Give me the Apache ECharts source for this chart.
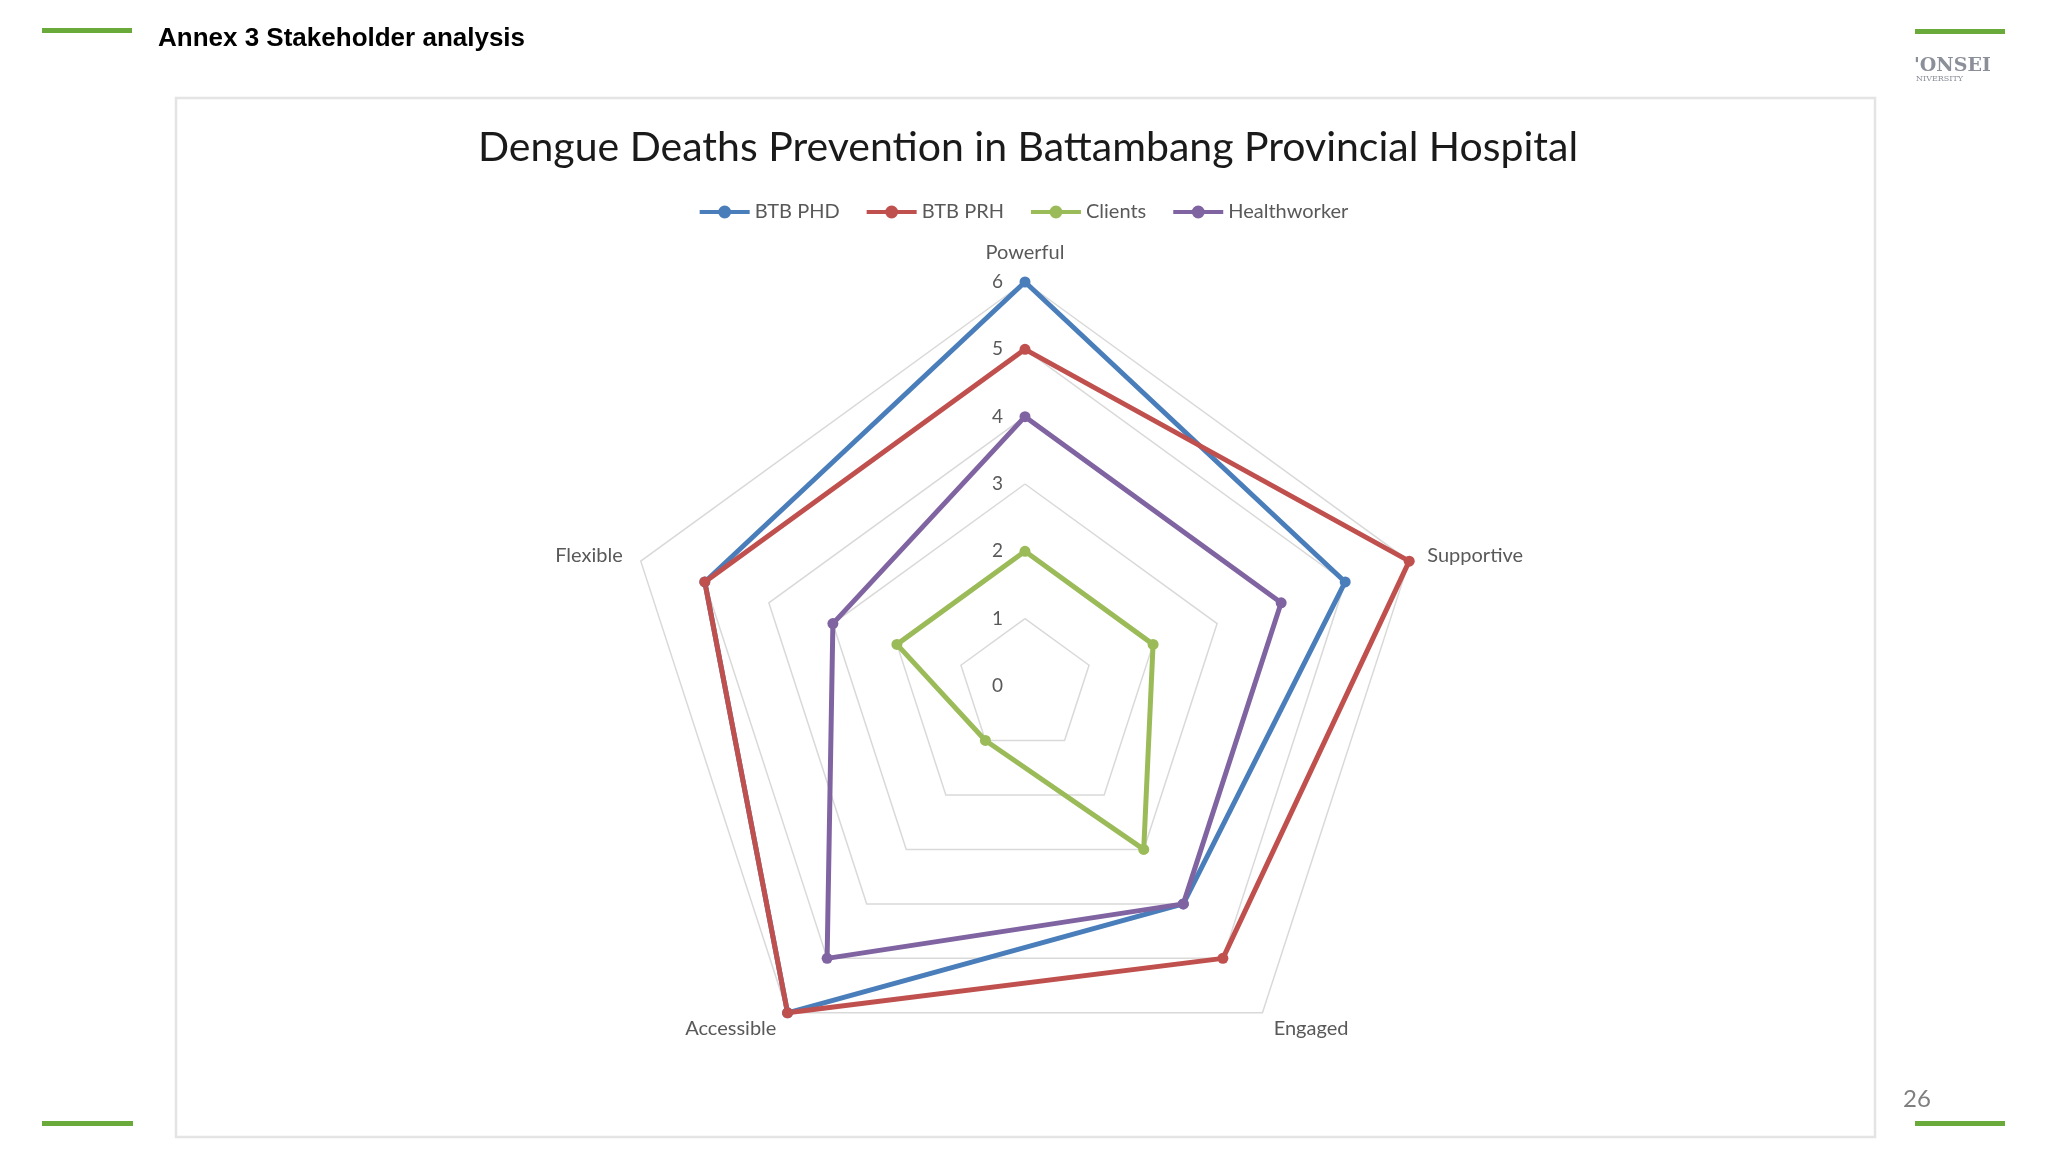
<!DOCTYPE html>
<html>
<head>
<meta charset="utf-8">
<script src="https://cdn.jsdelivr.net/npm/echarts@6/dist/echarts.min.js"></script>
<style>
html,body{margin:0;padding:0;background:#fff;}
#c{width:2048px;height:1152px;}
</style>
</head>
<body>
<div id="c"></div>
<script>
// Indicators in ECharts (counter-clockwise from top) order
const categories = ['Powerful', 'Flexible', 'Accessible', 'Engaged', 'Supportive'];
const seriesNames = ['BTB PHD', 'BTB PRH', 'Clients', 'Healthworker'];
const btbPHD = [6, 5, 6, 4, 5];
const btbPRH = [5, 5, 6, 5, 6];
const clients = [2, 2, 1, 3, 2];
const healthworker = [4, 3, 5, 4, 4];
const tickLabels = ['0', '1', '2', '3', '4', '5', '6'];

const colors = ['#4A7EBB', '#C0504D', '#9BBB59', '#8064A2'];
const values = [btbPHD, btbPRH, clients, healthworker];

const chart = echarts.init(document.getElementById('c'));
const legendIcon = 'path://M0 4.5H19V8.5H0Z M31 4.5H50V8.5H31Z M25 0A6.5 6.5 0 1 1 24.99 0Z';

chart.setOption({
  backgroundColor: '#ffffff',
  animation: false,
  title: {
    text: 'Dengue Deaths Prevention in Battambang Provincial Hospital',
    left: 1023, top: 143, textAlign: 'center', textVerticalAlign: 'middle',
    textStyle: {fontFamily: 'Lato', fontSize: 41, fontWeight: 'normal', color: '#1a1a1a'}
  },
  legend: {
    top: 197, left: 'center',
    itemWidth: 50, itemHeight: 13, itemGap: 27,
    icon: legendIcon,
    textStyle: {fontFamily: 'Lato', fontSize: 20, color: '#595959'},
    data: seriesNames
  },
  radar: {
    center: [1025, 686], radius: 404, startAngle: 90,
    shape: 'polygon', splitNumber: 6,
    indicator: categories.map(n => ({name: n, min: 0, max: 6})),
    nameGap: 19,
    axisName: {fontFamily: 'Lato', fontSize: 20, color: '#595959'},
    axisLine: {show: false},
    axisTick: {show: false},
    axisLabel: {show: false},
    splitArea: {show: false},
    splitLine: {lineStyle: {color: '#d9d9d9', width: 1.5}}
  },
  polar: {center: [1025, 686], radius: 404},
  angleAxis: {show: false, startAngle: 90, min: 0, max: 360},
  radiusAxis: {
    type: 'value', min: 0, max: 6, interval: 1,
    axisLine: {show: false}, axisTick: {show: false}, splitLine: {show: false},
    axisLabel: {fontFamily: 'Lato', fontSize: 19, color: '#595959', margin: 22,
      formatter: v => tickLabels[v]}
  },
  series: seriesNames.map((name, i) => ({
    name: name, type: 'radar',
    symbol: 'circle', symbolSize: 11,
    itemStyle: {color: colors[i]},
    lineStyle: {color: colors[i], width: 5},
    data: [{value: values[i], name: name}]
  })),
  graphic: [
    {type: 'rect', shape: {x: 42, y: 28, width: 90, height: 5}, style: {fill: '#6aaa3a'}},
    {type: 'rect', shape: {x: 1915, y: 29, width: 90, height: 5}, style: {fill: '#6aaa3a'}},
    {type: 'rect', shape: {x: 42, y: 1121, width: 91, height: 5}, style: {fill: '#6aaa3a'}},
    {type: 'rect', shape: {x: 1915, y: 1121, width: 90, height: 5}, style: {fill: '#6aaa3a'}},
    {type: 'text', left: 158, top: 26, style: {text: 'Annex 3 Stakeholder analysis',
      font: 'bold 26px "Liberation Sans", Arial', fill: '#000'}},
    {type: 'text', left: 1914, top: 57, style: {text: "'ONSEI", font: 'bold 19px "DejaVu Serif", serif', fill: '#8a8f99'}},
    {type: 'text', left: 1916, top: 75, style: {text: 'NIVERSITY', font: '8px "DejaVu Serif", serif', fill: '#8a8f99'}},
    {type: 'text', left: 1903, top: 1087, style: {text: '26', font: '24px Lato', fill: '#7f7f7f'}},
    {type: 'rect', shape: {x: 176, y: 98, width: 1699, height: 1039},
      style: {fill: 'none', stroke: '#e4e4e4', lineWidth: 2.5}, z: -1}
  ]
});
</script>
</body>
</html>
